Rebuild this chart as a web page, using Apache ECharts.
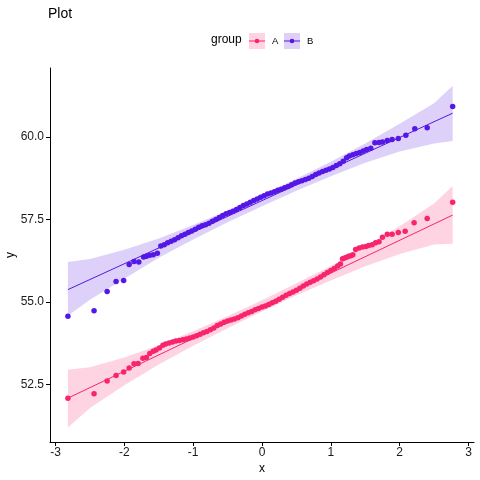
<!DOCTYPE html>
<html>
<head>
<meta charset="utf-8">
<script src="https://cdn.jsdelivr.net/npm/echarts@6/dist/echarts.min.js"></script>
<style>
  html, body { margin: 0; padding: 0; background: #fff; }
  #main { width: 480px; height: 480px; }
</style>
</head>
<body>
<div id="main"></div>
<script>
// ticks
var xTicks = [-3, -2, -1, 0, 1, 2, 3];
var yTicks = [52.5, 55.0, 57.5, 60.0];

// group A points (theoretical, sample)
var aX = [-2.82, -2.44, -2.25, -2.12, -2.01, -1.93, -1.86, -1.80, -1.73, -1.68, -1.63, -1.58, -1.54, -1.49, -1.44,
  -1.40, -1.35, -1.30, -1.25, -1.20, -1.15, -1.10, -1.05, -1.00, -0.95, -0.90, -0.85, -0.80, -0.75, -0.70,
  -0.65, -0.60, -0.55, -0.50, -0.45, -0.40, -0.35, -0.30, -0.25, -0.20, -0.15, -0.10, -0.05, 0.00, 0.05,
  0.10, 0.15, 0.20, 0.25, 0.30, 0.35, 0.40, 0.45, 0.50, 0.55, 0.60, 0.65, 0.70, 0.75, 0.80,
  0.85, 0.90, 0.95, 1.00, 1.05, 1.10, 1.14, 1.17, 1.20, 1.23, 1.26, 1.29, 1.32, 1.36, 1.41,
  1.46, 1.51, 1.55, 1.60, 1.65, 1.70, 1.75, 1.82, 1.89, 1.98, 2.08, 2.21, 2.40, 2.77];
var aY = [52.08, 52.21, 52.60, 52.77, 52.87, 52.99, 53.12, 53.13, 53.29, 53.31, 53.43, 53.50, 53.54, 53.60, 53.68,
  53.72, 53.75, 53.78, 53.81, 53.83, 53.85, 53.87, 53.90, 53.93, 53.97, 54.02, 54.06, 54.10, 54.15, 54.21,
  54.28, 54.33, 54.38, 54.42, 54.45, 54.48, 54.52, 54.57, 54.62, 54.67, 54.71, 54.76, 54.80, 54.84, 54.87,
  54.92, 54.97, 55.02, 55.08, 55.14, 55.20, 55.25, 55.30, 55.35, 55.41, 55.48, 55.54, 55.59, 55.64, 55.69,
  55.75, 55.82, 55.89, 55.95, 56.01, 56.09, 56.15, 56.31, 56.33, 56.35, 56.38, 56.40, 56.43, 56.59, 56.63,
  56.66, 56.68, 56.71, 56.73, 56.79, 56.82, 56.96, 57.05, 57.05, 57.10, 57.14, 57.40, 57.53, 58.02];

// group B points
var bX = [-2.82, -2.44, -2.25, -2.12, -2.01, -1.93, -1.86, -1.79, -1.72, -1.68, -1.63, -1.58, -1.52,
  -1.47, -1.42, -1.37, -1.32, -1.27, -1.22, -1.17, -1.12, -1.07, -1.02, -0.97, -0.92, -0.87, -0.82, -0.77,
  -0.72, -0.67, -0.62, -0.57, -0.52, -0.47, -0.42, -0.37, -0.32, -0.27, -0.22, -0.17, -0.12, -0.07, -0.02,
  0.03, 0.08, 0.13, 0.18, 0.23, 0.28, 0.33, 0.38, 0.43, 0.48, 0.53, 0.58, 0.63, 0.68, 0.73,
  0.78, 0.83, 0.88, 0.93, 0.98, 1.03, 1.08, 1.13, 1.18, 1.23, 1.27, 1.32, 1.37, 1.42, 1.47,
  1.52, 1.58, 1.64, 1.70, 1.75, 1.82, 1.89, 1.98, 2.09, 2.22, 2.40, 2.77];
var bY = [54.56, 54.73, 55.31, 55.62, 55.65, 56.13, 56.22, 56.21, 56.36, 56.38, 56.41, 56.43, 56.47,
  56.69, 56.73, 56.79, 56.84, 56.88, 56.94, 57.00, 57.05, 57.10, 57.15, 57.20, 57.26, 57.31, 57.34, 57.38,
  57.44, 57.50, 57.56, 57.62, 57.67, 57.71, 57.75, 57.80, 57.86, 57.92, 57.97, 58.02, 58.07, 58.12, 58.17,
  58.22, 58.27, 58.30, 58.34, 58.38, 58.41, 58.46, 58.50, 58.55, 58.60, 58.64, 58.67, 58.71, 58.75, 58.80,
  58.86, 58.91, 58.95, 58.99, 59.03, 59.07, 59.13, 59.19, 59.26, 59.37, 59.42, 59.46, 59.50, 59.53, 59.57,
  59.62, 59.66, 59.82, 59.83, 59.85, 59.89, 59.92, 59.95, 60.05, 60.25, 60.28, 60.92];

// reference lines (endpoints)
var lineX = [-2.82, 2.77];
var aLineY = [52.08, 57.63];
var bLineY = [55.37, 60.72];

// confidence bands
var bandX = [-2.82, -2.5, -2.0, -1.5, -1.0, -0.5, 0, 0.5, 1.0, 1.5, 2.0, 2.5, 2.77];
var aLower = [51.19, 51.78, 52.47, 53.10, 53.67, 54.20, 54.71, 55.20, 55.65, 56.08, 56.45, 56.74, 56.76];
var aUpper = [52.94, 53.02, 53.31, 53.68, 54.11, 54.56, 55.05, 55.56, 56.09, 56.66, 57.29, 57.98, 58.51];
var bLower = [54.58, 55.06, 55.70, 56.34, 56.89, 57.41, 57.90, 58.37, 58.81, 59.22, 59.56, 59.80, 59.88];
var bUpper = [56.21, 56.30, 56.58, 56.92, 57.33, 57.77, 58.24, 58.73, 59.25, 59.80, 60.40, 61.02, 61.55];

var colA = '#F8246E';
var colB = '#5517E6';
var fillA = 'rgba(248,36,110,0.2)';
var fillB = 'rgba(85,23,230,0.2)';

function pairs(xs, ys) {
  return xs.map(function (x, i) { return [x, ys[i]]; });
}

// band as polygon: lower edge left->right, upper edge right->left
function band(name, lo, hi, fill) {
  var rows = bandX.map(function (x, i) { return [x, lo[i], hi[i]]; });
  return {
    name: name, type: 'custom', data: rows, silent: true, z: 1,
    encode: { x: 0, y: [1, 2] },
    renderItem: function (params, api) {
      if (params.dataIndex !== 0) return;
      var pts = [];
      rows.forEach(function (r) { pts.push(api.coord([r[0], r[1]])); });
      for (var i = rows.length - 1; i >= 0; i--) pts.push(api.coord([rows[i][0], rows[i][2]]));
      return { type: 'polygon', shape: { points: pts }, style: { fill: fill } };
    }
  };
}

var chart = echarts.init(document.getElementById('main'));
var font = 'Liberation Sans, Arial, sans-serif';

var option = {
  animation: false,
  backgroundColor: '#fff',
  title: {
    text: 'Plot', left: 43, top: 2,
    textStyle: { fontFamily: font, fontSize: 14, fontWeight: 'normal', color: '#000' }
  },
  grid: { left: 50, right: 6, top: 68, bottom: 38, containLabel: false, outerBoundsMode: 'none' },
  xAxis: {
    type: 'value', min: -3.08, max: 3.08,
    name: 'x', nameLocation: 'middle', nameGap: 21, nameMoveOverlap: false,
    nameTextStyle: { fontFamily: font, fontSize: 12, color: '#000' },
    axisLine: { onZero: false, lineStyle: { color: '#000', width: 1 } },
    axisTick: { customValues: xTicks, length: 4, lineStyle: { color: '#000' } },
    axisLabel: { customValues: xTicks, fontFamily: font, fontSize: 12, color: '#1a1a1a', margin: 5 },
    splitLine: { show: false }
  },
  yAxis: {
    type: 'value', min: 50.75, max: 62.09,
    name: 'y', nameLocation: 'middle', nameGap: 33, nameRotate: 90, nameMoveOverlap: false,
    nameTextStyle: { fontFamily: font, fontSize: 12, color: '#000' },
    axisLine: { show: true, onZero: false, lineStyle: { color: '#000', width: 1 } },
    axisTick: { show: true, customValues: yTicks, length: 4, lineStyle: { color: '#000' } },
    axisLabel: {
      customValues: yTicks, fontFamily: font, fontSize: 12, color: '#1a1a1a', margin: 6,
      formatter: function (v) { return v.toFixed(1); }
    },
    splitLine: { show: false }
  },
  graphic: [
    { type: 'text', left: 211, top: 34, style: { text: 'group', font: '12px ' + font, fill: '#000' } },
    { type: 'rect', shape: { x: 249, y: 33, width: 16, height: 16 }, style: { fill: fillA } },
    { type: 'line', shape: { x1: 249, y1: 41, x2: 265, y2: 41 }, style: { stroke: colA, lineWidth: 1 } },
    { type: 'circle', shape: { cx: 257, cy: 41, r: 2.3 }, style: { fill: colA } },
    { type: 'text', left: 272, top: 36, style: { text: 'A', font: '9.5px ' + font, fill: '#000' } },
    { type: 'rect', shape: { x: 284, y: 33, width: 16, height: 16 }, style: { fill: fillB } },
    { type: 'line', shape: { x1: 284, y1: 41, x2: 300, y2: 41 }, style: { stroke: colB, lineWidth: 1 } },
    { type: 'circle', shape: { cx: 292, cy: 41, r: 2.3 }, style: { fill: colB } },
    { type: 'text', left: 307, top: 36, style: { text: 'B', font: '9.5px ' + font, fill: '#000' } }
  ],
  series: [
    band('bandB', bLower, bUpper, fillB),
    band('bandA', aLower, aUpper, fillA),
    { name: 'lineB', type: 'line', data: pairs(lineX, bLineY), symbol: 'none',
      lineStyle: { color: colB, width: 1 }, z: 3 },
    { name: 'lineA', type: 'line', data: pairs(lineX, aLineY), symbol: 'none',
      lineStyle: { color: colA, width: 1 }, z: 3 },
    { name: 'B', type: 'scatter', data: pairs(bX, bY), symbolSize: 5.5,
      itemStyle: { color: colB, opacity: 1 }, z: 4 },
    { name: 'A', type: 'scatter', data: pairs(aX, aY), symbolSize: 5.5,
      itemStyle: { color: colA, opacity: 1 }, z: 4 }
  ]
};
chart.setOption(option);
</script>
</body>
</html>
